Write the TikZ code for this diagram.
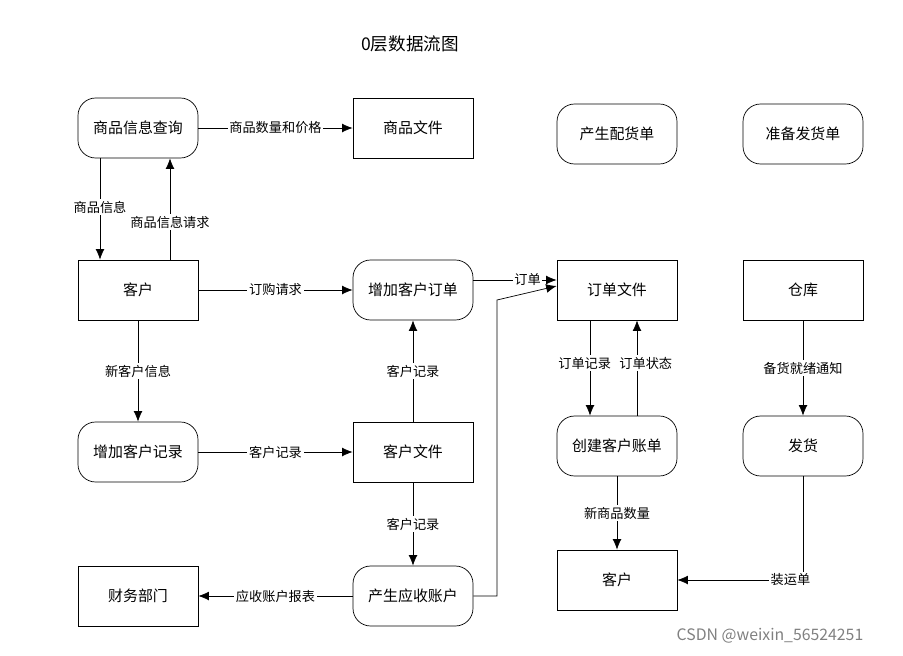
\documentclass[tikz,border=0pt]{standalone}
\usepackage{fontspec}
\setmainfont{Noto Sans CJK SC}
\usetikzlibrary{arrows.meta}

\begin{document}
\begin{tikzpicture}[x=0.02cm, y=-0.02cm,
    proc/.style={draw, rounded corners=10pt, minimum width=2.4cm, minimum height=1.2cm, font=\fontsize{8.5}{10}\selectfont},
    ent/.style={draw, minimum width=2.4cm, minimum height=1.2cm, font=\fontsize{8.5}{10}\selectfont},
    flow/.style={-{Latex[length=6pt,width=5pt]}},
    lbl/.style={fill=white, inner sep=1pt, font=\fontsize{7.5}{9}\selectfont}]
    \useasboundingbox (0,0) rectangle (903,656);

    \node[font=\fontsize{10}{12}\selectfont] (title) at (410,44) {0层数据流图};

    \node[proc] (query) at (138,128) {商品信息查询};
    \node[ent] (goods) at (413,128) {商品文件};
    \node[proc] (alloc) at (617,134) {产生配货单};
    \node[proc] (prep) at (803,134) {准备发货单};

    \node[ent] (cust) at (138,290) {客户};
    \node[proc] (addorder) at (413,290) {增加客户订单};
    \node[ent] (orders) at (617,290) {订单文件};
    \node[ent] (store) at (803,290) {仓库};

    \node[proc] (addrec) at (138,452) {增加客户记录};
    \node[ent] (custfile) at (413,452) {客户文件};
    \node[proc] (bill) at (617,446) {创建客户账单};
    \node[proc] (ship) at (803,446) {发货};

    \node[ent] (cust2) at (617,580) {客户};
    \node[ent] (finance) at (138,596) {财务部门};
    \node[proc] (recv) at (413,596) {产生应收账户};

    % 上层
    \draw[flow] (query) -- node[lbl] {商品数量和价格} (goods);
    \draw[flow] (query.south -| 100,0) -- node[lbl, pos=0.48] {商品信息} (cust.north -| 100,0);
    \draw[flow] (cust.north -| 170,0) -- node[lbl, pos=0.37] {商品信息请求} (query.south -| 170,0);

    % 中层
    \draw[flow] (cust) -- node[lbl] {订购请求} (addorder);
    \draw[flow] (addorder.east |- 0,280) -- node[lbl, pos=0.65] {订单} (orders.west |- 0,280);
    \draw[flow] (cust) -- node[lbl] {新客户信息} (addrec);
    \draw[flow] (addrec) -- node[lbl] {客户记录} (custfile);
    \draw[flow] (custfile) -- node[lbl] {客户记录} (addorder);
    \draw[flow] (custfile) -- node[lbl] {客户记录} (recv);
    \draw[flow] (recv) -- node[lbl] {应收账户报表} (finance);
    \coordinate (bend1) at (497,596);
    \coordinate (bend2) at (497,300);
    \draw[flow] (recv.east) -- (bend1) -- (bend2) -- (orders.west |- 0,286);

    % 右侧
    \draw[flow] (orders.south -| 590,0) -- node[lbl, pos=0.45, xshift=-3pt] {订单记录} (bill.north -| 590,0);
    \draw[flow] (bill.north -| 637,0) -- node[lbl, pos=0.55, xshift=5pt] {订单状态} (orders.south -| 637,0);
    \draw[flow] (store) -- node[lbl] {备货就绪通知} (ship);
    \draw[flow] (bill) -- node[lbl] {新商品数量} (cust2);
    \coordinate (bend3) at (803,580);
    \draw[flow] (ship.south) -- (bend3) -- node[lbl, pos=0.1] {装运单} (cust2.east);

    \node[text=gray, font=\fontsize{9}{11}\selectfont] (mark) at (770,636) {CSDN @weixin\_56524251};
\end{tikzpicture}
\end{document}
